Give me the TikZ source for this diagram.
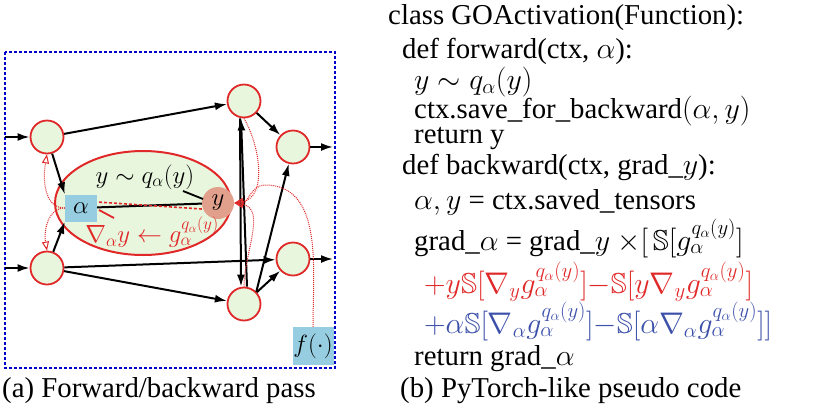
\documentclass[tikz,border=0pt]{standalone}
\usepackage{amssymb}
\usepackage{fontspec}
\setmainfont{Liberation Serif}
\usetikzlibrary{arrows.meta,shapes.geometric}
\definecolor{cfill}{RGB}{232,246,222}
\definecolor{cred}{RGB}{225,40,40}
\definecolor{cblue}{RGB}{60,80,170}
\definecolor{cbox}{RGB}{150,205,225}
\definecolor{ypink}{RGB}{225,160,140}
\tikzset{
 nd/.style={circle,draw=cred,fill=cfill,line width=1.8pt,minimum size=33pt,inner sep=0pt},
 fw/.style={-{Latex[length=12pt,width=8pt]},line width=2pt},
 bw/.style={densely dotted,cred,line width=1pt,-{Triangle[open,length=9pt,width=7pt]}},
 code/.style={anchor=base west,inner sep=0pt,font=\fontsize{24}{28}\selectfont,scale=1.2,transform shape},
 big/.style={font=\fontsize{24}{24}\selectfont,inner sep=0pt},
}
\begin{document}
\begin{tikzpicture}[x=1pt,y=-1pt]
\useasboundingbox (0,0) rectangle (820,416);
\draw[blue!80!black,densely dashed,line width=1.6pt] (5,52) rectangle (335,368);
\node[ellipse,draw=cred,fill=cfill,line width=2pt,minimum width=176pt,minimum height=104pt] (ell) at (143,203) {};
\node[nd] (A) at (47,137) {};
\node[nd] (B) at (47,268) {};
\node[nd] (C) at (244,101) {};
\node[nd] (D) at (293,147) {};
\node[nd] (E) at (293,259) {};
\node[nd] (F) at (244,304) {};
\node[fill=cbox,minimum width=32pt,minimum height=27pt,inner sep=0pt,font=\fontsize{24}{24}\selectfont] (al) at (81,208) {$\alpha$};
\node[circle,fill=ypink,minimum size=32pt,inner sep=0pt,font=\fontsize{24}{24}\selectfont] (y) at (218,203) {$y$};
\node[fill=cbox,minimum width=41pt,minimum height=38pt,inner sep=0pt,font=\fontsize{24}{24}\selectfont] (f) at (313,346) {$f(\cdot)$};
\coordinate (in1) at (5,137); \coordinate (in2) at (5,268);
\coordinate (o1) at (333,147); \coordinate (o2) at (333,259);
\draw[fw] (in1) -- (A); \draw[fw] (in2) -- (B);
\draw[fw] (D) -- (o1); \draw[fw] (E) -- (o2);
\draw[fw] (A) -- (C);
\draw[fw] (A) -- (al.north west);
\draw[fw] (B) -- (al.south west);
\draw[fw] (B) -- (E);
\draw[fw] (B) -- (F);
\draw[fw] (C) -- (D);
\draw[fw] ([xshift=-4pt]C.south) -- ([xshift=-3pt]F.north);
\draw[fw] ([xshift=3pt]F.north) -- ([xshift=-3pt]C.south);
\draw[fw] (F.north east) -- (D);
\draw[fw] (F) -- (E);
\draw[line width=2pt] (al) -- (y);
\node[big] (lab1) at (145,177) {$y\sim q_\alpha(y)$};
\draw[line width=1.8pt] (183,191) -- (203,199);
\draw[cred,densely dashed,line width=1.6pt] (y.west) ++(0,6) -- ([yshift=6pt]al.east);
\node[big,cred] (lab2) at (152,232) {$\nabla_\alpha y\leftarrow g_\alpha^{q_\alpha(y)}$};
\draw[cred,line width=1.8pt] (99,210) -- (114,218);
\draw[bw] (al.west) to[out=180,in=-100] (A.south);
\draw[bw] (al.west) to[out=180,in=100] (B.north);
\draw[bw] (C.south) to[out=-60,in=10] (y.east);
\draw[bw] (F.north) to[out=90,in=-10] (y.east);
\draw[bw] (f.north) to[out=90,in=0] (265,185) to[out=180,in=0] (y.east);
\node[code] (capa) at (2,397) {(a)\ Forward/backward pass};
\node[code] (capb) at (400,397) {(b)\ PyTorch-like pseudo code};
\node[code] (l1) at (388,24) {class GOActivation(Function):};
\node[code] (l2) at (402,58) {def forward(ctx, $\alpha$):};
\node[code] (l3) at (414,89) {$y\sim q_\alpha(y)$};
\node[code] (l4) at (414,118) {ctx.save\_for\_backward$(\alpha,y)$};
\node[code] (l5) at (414,143) {return y};
\node[code] (l6) at (402,174) {def backward(ctx, grad\_$y$):};
\node[code] (l7) at (414,209) {$\alpha,y$ = ctx.saved\_tensors};
\node[code] (l8) at (414,250) {grad\_$\alpha$ = grad\_$y$ $\times\big[\,\mathbb{S}[g_\alpha^{q_\alpha(y)}]$};
\node[code,text=cred] (l9) at (424,293) {$+y\mathbb{S}[\nabla_y g_\alpha^{q_\alpha(y)}]{-}\mathbb{S}[y\nabla_y g_\alpha^{q_\alpha(y)}]$};
\node[code,text=cblue] (l10) at (424,333) {$+\alpha\mathbb{S}[\nabla_\alpha g_\alpha^{q_\alpha(y)}]{-}\mathbb{S}[\alpha\nabla_\alpha g_\alpha^{q_\alpha(y)}]\big]$};
\node[code] (l11) at (414,365) {return grad\_$\alpha$};
\end{tikzpicture}
\end{document}
